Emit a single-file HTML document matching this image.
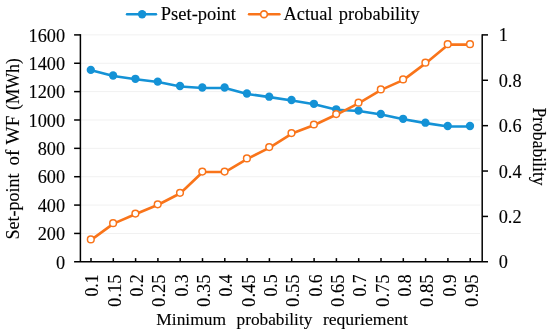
<!DOCTYPE html>
<html lang="en"><head><meta charset="utf-8"><title>Chart</title>
<style>html,body{margin:0;padding:0;background:#fff}svg{display:block}text{font-family:"Liberation Serif",serif;fill:#000;stroke:#000;stroke-width:0.12px}</style></head><body>
<svg width="550" height="333" viewBox="0 0 550 333">
<rect width="550" height="333" fill="#fff"/>
<line x1="80.4" x2="480.2" y1="34.90" y2="34.90" stroke="#F1F1F1" stroke-width="1"/>
<line x1="80.4" x2="480.2" y1="63.26" y2="63.26" stroke="#F1F1F1" stroke-width="1"/>
<line x1="80.4" x2="480.2" y1="91.62" y2="91.62" stroke="#F1F1F1" stroke-width="1"/>
<line x1="80.4" x2="480.2" y1="119.99" y2="119.99" stroke="#F1F1F1" stroke-width="1"/>
<line x1="80.4" x2="480.2" y1="148.35" y2="148.35" stroke="#F1F1F1" stroke-width="1"/>
<line x1="80.4" x2="480.2" y1="176.71" y2="176.71" stroke="#F1F1F1" stroke-width="1"/>
<line x1="80.4" x2="480.2" y1="205.08" y2="205.08" stroke="#F1F1F1" stroke-width="1"/>
<line x1="80.4" x2="480.2" y1="233.44" y2="233.44" stroke="#F1F1F1" stroke-width="1"/>
<polyline transform="translate(0.4,0.45)" points="90.8,69.9 113.1,75.5 135.4,78.8 157.7,81.6 180.0,86.0 202.3,87.5 224.6,87.5 246.9,93.5 269.2,96.7 291.5,100.0 313.9,103.8 336.2,109.3 358.5,110.6 380.8,114.0 403.1,118.8 425.4,122.7 447.7,126.0 470.0,126.0" fill="none" stroke="#1492D6" stroke-width="2.6" stroke-linejoin="round"/>
<circle cx="90.8" cy="69.9" r="4.15" fill="#1492D6"/>
<circle cx="113.1" cy="75.5" r="4.15" fill="#1492D6"/>
<circle cx="135.4" cy="78.8" r="4.15" fill="#1492D6"/>
<circle cx="157.7" cy="81.6" r="4.15" fill="#1492D6"/>
<circle cx="180.0" cy="86.0" r="4.15" fill="#1492D6"/>
<circle cx="202.3" cy="87.5" r="4.15" fill="#1492D6"/>
<circle cx="224.6" cy="87.5" r="4.15" fill="#1492D6"/>
<circle cx="246.9" cy="93.5" r="4.15" fill="#1492D6"/>
<circle cx="269.2" cy="96.7" r="4.15" fill="#1492D6"/>
<circle cx="291.5" cy="100.0" r="4.15" fill="#1492D6"/>
<circle cx="313.9" cy="103.8" r="4.15" fill="#1492D6"/>
<circle cx="336.2" cy="109.3" r="4.15" fill="#1492D6"/>
<circle cx="358.5" cy="110.6" r="4.15" fill="#1492D6"/>
<circle cx="380.8" cy="114.0" r="4.15" fill="#1492D6"/>
<circle cx="403.1" cy="118.8" r="4.15" fill="#1492D6"/>
<circle cx="425.4" cy="122.7" r="4.15" fill="#1492D6"/>
<circle cx="447.7" cy="126.0" r="4.15" fill="#1492D6"/>
<circle cx="470.0" cy="126.0" r="4.15" fill="#1492D6"/>
<polyline transform="translate(0.4,0.45)" points="90.8,239.4 113.1,223.2 135.4,213.6 157.7,204.3 180.0,192.8 202.3,171.6 224.6,171.6 246.9,158.4 269.2,147.1 291.5,133.1 313.9,124.5 336.2,114.1 358.5,102.7 380.8,89.4 403.1,79.4 425.4,62.7 447.7,44.2 470.0,44.2" fill="none" stroke="#F9741A" stroke-width="2.6" stroke-linejoin="round"/>
<circle cx="90.8" cy="239.4" r="3.35" fill="#fff" stroke="#F9741A" stroke-width="1.5"/>
<circle cx="113.1" cy="223.2" r="3.35" fill="#fff" stroke="#F9741A" stroke-width="1.5"/>
<circle cx="135.4" cy="213.6" r="3.35" fill="#fff" stroke="#F9741A" stroke-width="1.5"/>
<circle cx="157.7" cy="204.3" r="3.35" fill="#fff" stroke="#F9741A" stroke-width="1.5"/>
<circle cx="180.0" cy="192.8" r="3.35" fill="#fff" stroke="#F9741A" stroke-width="1.5"/>
<circle cx="202.3" cy="171.6" r="3.35" fill="#fff" stroke="#F9741A" stroke-width="1.5"/>
<circle cx="224.6" cy="171.6" r="3.35" fill="#fff" stroke="#F9741A" stroke-width="1.5"/>
<circle cx="246.9" cy="158.4" r="3.35" fill="#fff" stroke="#F9741A" stroke-width="1.5"/>
<circle cx="269.2" cy="147.1" r="3.35" fill="#fff" stroke="#F9741A" stroke-width="1.5"/>
<circle cx="291.5" cy="133.1" r="3.35" fill="#fff" stroke="#F9741A" stroke-width="1.5"/>
<circle cx="313.9" cy="124.5" r="3.35" fill="#fff" stroke="#F9741A" stroke-width="1.5"/>
<circle cx="336.2" cy="114.1" r="3.35" fill="#fff" stroke="#F9741A" stroke-width="1.5"/>
<circle cx="358.5" cy="102.7" r="3.35" fill="#fff" stroke="#F9741A" stroke-width="1.5"/>
<circle cx="380.8" cy="89.4" r="3.35" fill="#fff" stroke="#F9741A" stroke-width="1.5"/>
<circle cx="403.1" cy="79.4" r="3.35" fill="#fff" stroke="#F9741A" stroke-width="1.5"/>
<circle cx="425.4" cy="62.7" r="3.35" fill="#fff" stroke="#F9741A" stroke-width="1.5"/>
<circle cx="447.7" cy="44.2" r="3.35" fill="#fff" stroke="#F9741A" stroke-width="1.5"/>
<circle cx="470.0" cy="44.2" r="3.35" fill="#fff" stroke="#F9741A" stroke-width="1.5"/>
<g stroke="#000" stroke-width="1.5" fill="none">
<line x1="80.4" x2="80.4" y1="34.15" y2="261.8"/>
<line x1="482.2" x2="482.2" y1="34.15" y2="261.8"/>
<line x1="74.10000000000001" x2="488.0" y1="261.8" y2="261.8"/>
<line x1="74.10000000000001" x2="80.4" y1="34.90" y2="34.90"/>
<line x1="74.10000000000001" x2="80.4" y1="63.26" y2="63.26"/>
<line x1="74.10000000000001" x2="80.4" y1="91.62" y2="91.62"/>
<line x1="74.10000000000001" x2="80.4" y1="119.99" y2="119.99"/>
<line x1="74.10000000000001" x2="80.4" y1="148.35" y2="148.35"/>
<line x1="74.10000000000001" x2="80.4" y1="176.71" y2="176.71"/>
<line x1="74.10000000000001" x2="80.4" y1="205.08" y2="205.08"/>
<line x1="74.10000000000001" x2="80.4" y1="233.44" y2="233.44"/>
<line x1="482.2" x2="488.0" y1="34.90" y2="34.90"/>
<line x1="482.2" x2="488.0" y1="80.28" y2="80.28"/>
<line x1="482.2" x2="488.0" y1="125.66" y2="125.66"/>
<line x1="482.2" x2="488.0" y1="171.04" y2="171.04"/>
<line x1="482.2" x2="488.0" y1="216.42" y2="216.42"/>
<line x1="91.0" x2="91.0" y1="258.1" y2="261.8"/>
<line x1="113.3" x2="113.3" y1="258.1" y2="261.8"/>
<line x1="135.6" x2="135.6" y1="258.1" y2="261.8"/>
<line x1="157.9" x2="157.9" y1="258.1" y2="261.8"/>
<line x1="180.2" x2="180.2" y1="258.1" y2="261.8"/>
<line x1="202.5" x2="202.5" y1="258.1" y2="261.8"/>
<line x1="224.8" x2="224.8" y1="258.1" y2="261.8"/>
<line x1="247.1" x2="247.1" y1="258.1" y2="261.8"/>
<line x1="269.4" x2="269.4" y1="258.1" y2="261.8"/>
<line x1="291.7" x2="291.7" y1="258.1" y2="261.8"/>
<line x1="314.1" x2="314.1" y1="258.1" y2="261.8"/>
<line x1="336.4" x2="336.4" y1="258.1" y2="261.8"/>
<line x1="358.7" x2="358.7" y1="258.1" y2="261.8"/>
<line x1="381.0" x2="381.0" y1="258.1" y2="261.8"/>
<line x1="403.3" x2="403.3" y1="258.1" y2="261.8"/>
<line x1="425.6" x2="425.6" y1="258.1" y2="261.8"/>
<line x1="447.9" x2="447.9" y1="258.1" y2="261.8"/>
<line x1="470.2" x2="470.2" y1="258.1" y2="261.8"/>
</g>
<text transform="translate(65.10,41.60)" font-size="18.3" text-anchor="end">1600</text>
<text transform="translate(65.10,69.96)" font-size="18.3" text-anchor="end">1400</text>
<text transform="translate(65.10,98.33)" font-size="18.3" text-anchor="end">1200</text>
<text transform="translate(65.10,126.69)" font-size="18.3" text-anchor="end">1000</text>
<text transform="translate(65.10,155.05)" font-size="18.3" text-anchor="end">800</text>
<text transform="translate(65.10,183.41)" font-size="18.3" text-anchor="end">600</text>
<text transform="translate(65.10,211.78)" font-size="18.3" text-anchor="end">400</text>
<text transform="translate(65.10,240.14)" font-size="18.3" text-anchor="end">200</text>
<text transform="translate(65.10,268.50)" font-size="18.3" text-anchor="end">0</text>
<text transform="translate(498.70,41.40)" font-size="18.3">1</text>
<text transform="translate(498.70,86.78)" font-size="18.3">0.8</text>
<text transform="translate(498.70,132.16)" font-size="18.3">0.6</text>
<text transform="translate(498.70,177.54)" font-size="18.3">0.4</text>
<text transform="translate(498.70,222.92)" font-size="18.3">0.2</text>
<text transform="translate(498.70,268.30)" font-size="18.3">0</text>
<text transform="translate(98.20,274.40) rotate(-90) scale(0.965,1)" font-size="18.3" text-anchor="end">0.1</text>
<text transform="translate(120.54,274.40) rotate(-90) scale(1.015,1)" font-size="18.3" text-anchor="end">0.15</text>
<text transform="translate(142.88,274.40) rotate(-90) scale(0.965,1)" font-size="18.3" text-anchor="end">0.2</text>
<text transform="translate(165.22,274.40) rotate(-90) scale(1.015,1)" font-size="18.3" text-anchor="end">0.25</text>
<text transform="translate(187.56,274.40) rotate(-90) scale(0.965,1)" font-size="18.3" text-anchor="end">0.3</text>
<text transform="translate(209.90,274.40) rotate(-90) scale(1.015,1)" font-size="18.3" text-anchor="end">0.35</text>
<text transform="translate(232.24,274.40) rotate(-90) scale(0.965,1)" font-size="18.3" text-anchor="end">0.4</text>
<text transform="translate(254.58,274.40) rotate(-90) scale(1.015,1)" font-size="18.3" text-anchor="end">0.45</text>
<text transform="translate(276.92,274.40) rotate(-90) scale(0.965,1)" font-size="18.3" text-anchor="end">0.5</text>
<text transform="translate(299.26,274.40) rotate(-90) scale(1.015,1)" font-size="18.3" text-anchor="end">0.55</text>
<text transform="translate(321.60,274.40) rotate(-90) scale(0.965,1)" font-size="18.3" text-anchor="end">0.6</text>
<text transform="translate(343.94,274.40) rotate(-90) scale(1.015,1)" font-size="18.3" text-anchor="end">0.65</text>
<text transform="translate(366.28,274.40) rotate(-90) scale(0.965,1)" font-size="18.3" text-anchor="end">0.7</text>
<text transform="translate(388.62,274.40) rotate(-90) scale(1.015,1)" font-size="18.3" text-anchor="end">0.75</text>
<text transform="translate(410.96,274.40) rotate(-90) scale(0.965,1)" font-size="18.3" text-anchor="end">0.8</text>
<text transform="translate(433.30,274.40) rotate(-90) scale(1.015,1)" font-size="18.3" text-anchor="end">0.85</text>
<text transform="translate(455.64,274.40) rotate(-90) scale(0.965,1)" font-size="18.3" text-anchor="end">0.9</text>
<text transform="translate(477.98,274.40) rotate(-90) scale(1.015,1)" font-size="18.3" text-anchor="end">0.95</text>
<line x1="127" x2="156" y1="14.2" y2="14.2" stroke="#1492D6" stroke-width="2.4" stroke-linecap="round"/><circle cx="142.1" cy="14.2" r="4.2" fill="#1492D6"/>
<text transform="translate(160.80,19.60) scale(1.04,1)" font-size="17.8">Pset-point</text>
<line x1="249" x2="279.5" y1="14.2" y2="14.2" stroke="#F9741A" stroke-width="2.4" stroke-linecap="round"/><circle cx="264" cy="14.2" r="3.4" fill="#fff" stroke="#F9741A" stroke-width="1.7"/>
<text transform="translate(283.40,19.60) scale(1.035,1)" font-size="17.8">Actual</text>
<text transform="translate(338.80,19.60) scale(1.035,1)" font-size="17.8">probability</text>
<text transform="translate(156.30,325.20) scale(1.008,1)" font-size="17.3">Minimum</text>
<text transform="translate(236.50,325.20)" font-size="17.3">probability</text>
<text transform="translate(322.90,325.20) scale(1.018,1)" font-size="17.3">requriement</text>
<text transform="translate(19.30,239.50) rotate(-90) scale(0.983,1.06)" font-size="18.3">Set-point</text>
<text transform="translate(19.30,165.50) rotate(-90) scale(1.04,1.06)" font-size="18.3">of</text>
<text transform="translate(19.30,144.50) rotate(-90) scale(1.05,1.06)" font-size="18.3">WF</text>
<text transform="translate(19.30,110.00) rotate(-90) scale(0.943,1.06)" font-size="18.3">(MWh)</text>
<text transform="translate(532.50,107.40) rotate(90) scale(1,1.13)" font-size="17.6">Probability</text>
</svg></body></html>
